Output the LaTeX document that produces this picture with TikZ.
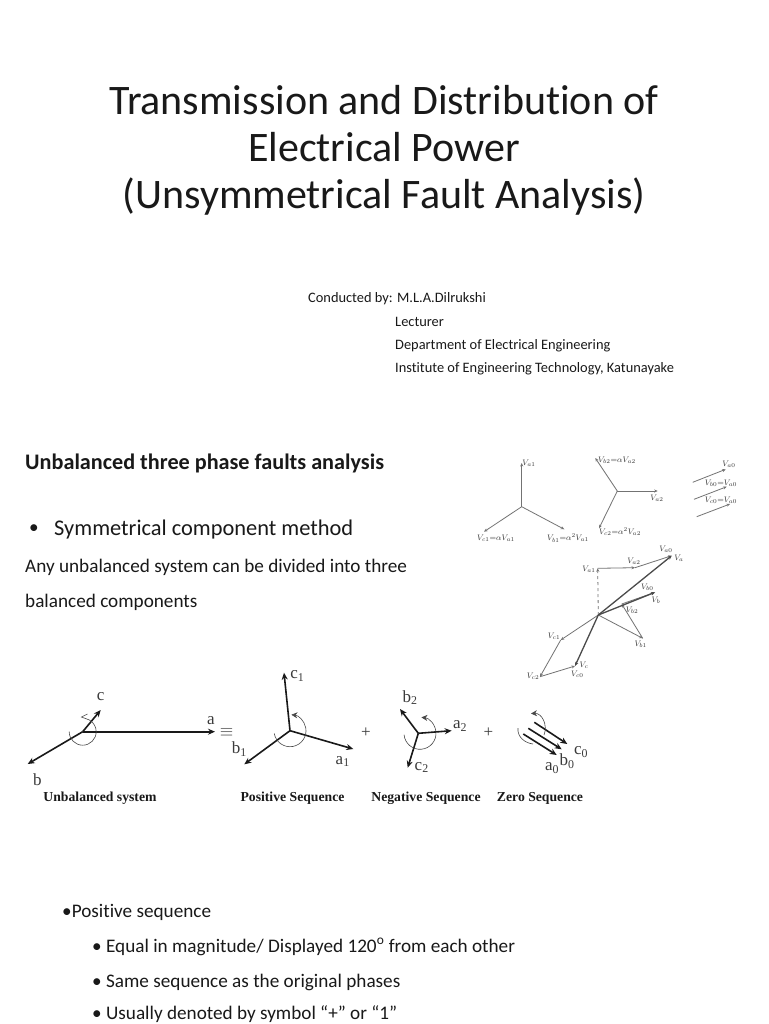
\documentclass[tikz,border=0pt]{standalone}
\usepackage{amsmath}
\usepackage{fontspec}
\setmainfont[Ligatures=NoCommon]{Carlito}
\newfontfamily\timesfont{Liberation Serif}
\usepackage{xcolor}
\definecolor{slideink}{RGB}{25,25,25}
\definecolor{scanink}{RGB}{55,55,55}
\definecolor{scanline}{RGB}{115,115,115}
\usetikzlibrary{positioning,arrows.meta}
\tikzset{
  titletext/.style={font=\fontsize{42}{50}\selectfont,text=slideink,inner sep=0pt,anchor=center},
  credit/.style   ={font=\fontsize{14.4}{17}\selectfont,text=slideink,inner sep=0pt,anchor=west},
  bodytext/.style ={font=\fontsize{19.2}{23}\selectfont,text=slideink,inner sep=0pt,anchor=west},
  caption/.style  ={font=\timesfont\bfseries\fontsize{13.7}{16}\selectfont,text=slideink,inner sep=0pt},
  phase/.style    ={font=\timesfont\fontsize{17}{19}\selectfont,text=slideink!85,inner sep=0pt},
  scanlabel/.style={font=\fontsize{8.5}{10}\selectfont,text=scanink,inner sep=0pt},
  vec/.style      ={-{Stealth[length=7pt,width=6pt]},line width=1.6pt,draw=slideink},
  rot/.style      ={-{Stealth[length=6pt,width=6pt]},line width=0.6pt,draw=slideink!80},
  scanvec/.style  ={-{Stealth[length=3.5pt,width=3pt]},line width=0.8pt,draw=scanline},
  resultvec/.style={-{Stealth[length=4pt,width=3.5pt]},line width=1.3pt,draw=scanink!90},
}
\begin{document}
\begin{tikzpicture}[x=1pt,y=-1pt]
  \useasboundingbox[fill=white] (0,0) rectangle (768,1024);
  % title block
  \foreach \i/\y/\name in {1/100/Transmission and Distribution of, 2/147/Electrical Power, 3/197/(Unsymmetrical Fault Analysis)}{
    \node[titletext] (title\i) at (384,\y) {\name};
  }
  \node[credit] (cond) at (308,299) {Conducted by: M.L.A.Dilrukshi};
  \foreach \i/\y/\name in {1/322/Lecturer, 2/346/Department of Electrical Engineering, 3/369/{Institute of Engineering Technology, Katunayake}}{
    \node[credit] (credit\i) at (395,\y) {\name};
  }
  % left text
  \node[bodytext,font=\bfseries\fontsize{22.2}{26}\selectfont] (head) at (25,463) {Unbalanced three phase faults analysis};
  \node[bodytext] (dot) at (29,529) {•};
  \node[bodytext,font=\fontsize{22.4}{26}\selectfont] (method) at (54,530) {Symmetrical component method};
  \node[bodytext] (any) at (25,567) {Any unbalanced system can be divided into three};
  \node[bodytext] (bal) at (25,602) {balanced components};
  % bottom list
  \node[bodytext] (pos) at (62,912) {•Positive sequence};
  \foreach \i/\y/\name in {1/947/{• Equal in magnitude/ Displayed 120\textsuperscript{o} from each other}, 2/982/• Same sequence as the original phases, 3/1014.5/• Usually denoted by symbol “+” or “1”}{
    \node[bodytext] (item\i) at (92,\y) {\name};
  }

  % positive set (scan)
  \coordinate (po) at (521.7,506.7);
  \coordinate (pa) at (521.7,463);
  \coordinate (pb) at (564.3,529.3);
  \coordinate (pc) at (484,531.7);
  \foreach \t in {pa,pb,pc} \draw[scanvec] (po) -- (\t);
  \node[scanlabel] (lpa) at (529,463) {$V_{a1}$};
  \node[scanlabel] (lpc) at (496,538) {$V_{c1}{=}\alpha V_{a1}$};
  \node[scanlabel] (lpb) at (568,538) {$V_{b1}{=}\alpha^2V_{a1}$};
  % negative set (scan)
  \coordinate (no) at (617.3,491);
  \coordinate (na) at (657.7,491);
  \coordinate (nb) at (595.3,458);
  \coordinate (nc) at (599,528.3);
  \foreach \t in {na,nb,nc} \draw[scanvec] (no) -- (\t);
  \node[scanlabel] (lnb) at (617,460) {$V_{b2}{=}\alpha V_{a2}$};
  \node[scanlabel] (lna) at (657,498) {$V_{a2}$};
  \node[scanlabel] (lnc) at (620,532) {$V_{c2}{=}\alpha^2V_{a2}$};
  % zero set (scan)
  \foreach \i/\xa/\ya/\xb/\yb in {a/692.7/482.3/725.7/469.3, b/694/499.3/726.7/486.7, c/696.7/516.7/730/504}{
    \coordinate (zs\i) at (\xa,\ya);
    \coordinate (ze\i) at (\xb,\yb);
    \draw[scanvec] (zs\i) -- (ze\i);
  }
  \node[scanlabel] (lza) at (729,464) {$V_{a0}$};
  \node[scanlabel] (lzb) at (721,483) {$V_{b0}{=}V_{a0}$};
  \node[scanlabel] (lzc) at (721,500) {$V_{c0}{=}V_{a0}$};
  % phasor sum (scan)
  \coordinate (so) at (598.3,615);
  \coordinate (sa1) at (597.7,568.3);
  \coordinate (sa2) at (635,567.7);
  \coordinate (sa) at (671.7,555.7);
  \coordinate (sb1) at (642.7,638.3);
  \coordinate (sb2) at (621.7,604);
  \coordinate (sb) at (655,592.3);
  \coordinate (sc1) at (560.7,640);
  \coordinate (sc2) at (540,676.7);
  \coordinate (sc) at (575,666);
  \draw[scanvec,dashed] (so) -- (sa1);
  \draw[scanvec] (sa1) -- (sa2);
  \draw[scanvec] (sa2) -- (sa);
  \draw[scanvec] (so) -- (sb1);
  \draw[scanvec] (sb1) -- (sb2);
  \draw[scanvec] (sb2) -- (sb);
  \draw[scanvec] (so) -- (sc1);
  \draw[scanvec] (sc1) -- (sc2);
  \draw[scanvec] (sc2) -- (sc);
  \foreach \t in {sa,sb,sc} \draw[resultvec] (so) -- (\t);
  \foreach \n/\x/\y/\name in {1/589/569/a1, 2/634/561.7/a2, 3/666/549.3/a0, 4/679/558/a, 5/647.3/587/b0, 6/656/600/b, 7/632/610/b2, 8/640.7/644/b1, 9/554/636.7/c1, 10/533/676.7/c2, 11/584/665/c, 12/577.3/674/c0}{
    \node[scanlabel] (ls\n) at (\x,\y) {$V_{\name}$};
  }

  % unbalanced system
  \coordinate (uo) at (82.7,731.7);
  \coordinate (ua) at (215,731.7);
  \coordinate (ub) at (27.7,764);
  \coordinate (uc) at (100.7,710);
  \foreach \t in {ua,ub,uc} \draw[vec] (uo) -- (\t);
  \draw[rot,-] (uo) ++(180:13.5) arc[start angle=180,end angle=-60,radius=13.5] -- ++(-8,-3) -- ++(6,-3);
  \node[phase] (lua) at (211,721) {a};
  \node[phase] (lub) at (37.3,780) {b};
  \node[phase] (luc) at (100.7,697) {c};
  \node[phase] (equiv) at (226.7,732) {$\equiv$};
  \node[caption] (cu) at (100,798) {Unbalanced system};
  % positive sequence
  \coordinate (co) at (290,730.7);
  \coordinate (ca) at (353.3,749);
  \coordinate (cb) at (244.3,764.3);
  \coordinate (cc) at (284,672.7);
  \foreach \t in {ca,cb,cc} \draw[vec] (co) -- (\t);
  \draw[rot] (co) ++(170:16) arc[start angle=170,end angle=-85,radius=16];
  \node[phase] (lca) at (342.7,761.7) {a\textsubscript{1}};
  \node[phase] (lcb) at (239.3,749.3) {b\textsubscript{1}};
  \node[phase] (lcc) at (297.3,676) {c\textsubscript{1}};
  \node[caption] (cp) at (292.5,798) {Positive Sequence};
  \node[phase] (plus1) at (366,732.7) {+};
  % negative sequence
  \coordinate (mo) at (418.3,733.3);
  \coordinate (ma) at (451.7,730.7);
  \coordinate (mb) at (400,709);
  \coordinate (mc) at (407.7,767.7);
  \foreach \t in {ma,mb,mc} \draw[vec] (mo) -- (\t);
  \draw[rot] (420,733.3) ++(175:16) arc[start angle=175,end angle=-85,radius=16];
  \node[phase] (lma) at (460,726) {a\textsubscript{2}};
  \node[phase] (lmb) at (410,697.7) {b\textsubscript{2}};
  \node[phase] (lmc) at (421.7,767.3) {c\textsubscript{2}};
  \node[caption] (cn) at (426,798) {Negative Sequence};
  \node[phase] (plus2) at (488.3,732.7) {+};
  % zero sequence
  \foreach \i/\xa/\ya/\xb/\yb in {a/523.3/734/556.7/755, b/528.3/728.3/561.7/749.3, c/534.3/722.3/567.3/744}{
    \coordinate (qs\i) at (\xa,\ya);
    \coordinate (qe\i) at (\xb,\yb);
    \draw[vec] (qs\i) -- (qe\i);
  }
  \coordinate (qr1) at (518,728);
  \coordinate (qr2) at (533,744);
  \coordinate (qr3) at (544,735);
  \coordinate (qr4) at (531,713.5);
  \draw[rot,-] (qr1) .. controls (517,737) and (525,743) .. (qr2);
  \draw[rot] (qr3) .. controls (548,725) and (542,713) .. (qr4);
  \node[phase] (lqa) at (552,768) {a\textsubscript{0}};
  \node[phase] (lqb) at (567,761) {b\textsubscript{0}};
  \node[phase] (lqc) at (581,752) {c\textsubscript{0}};
  \node[caption] (cz) at (540,798) {Zero Sequence};
\end{tikzpicture}
\end{document}
